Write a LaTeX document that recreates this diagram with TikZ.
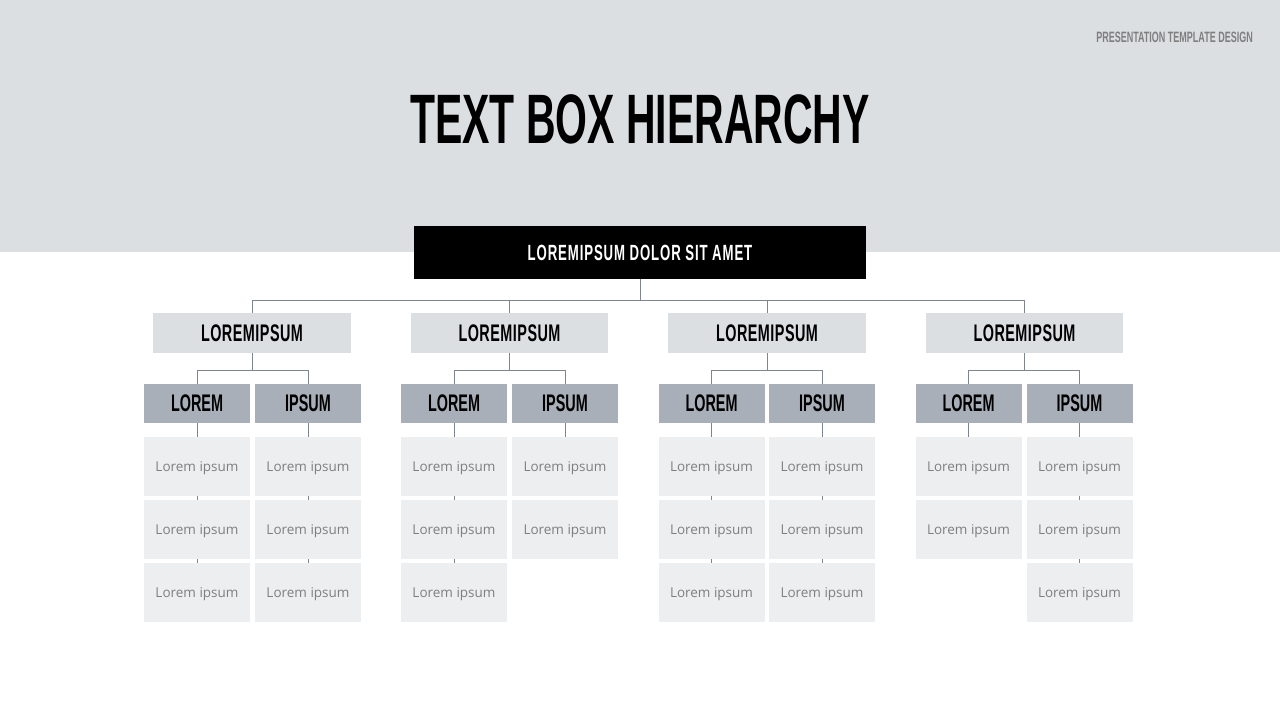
\documentclass[tikz,border=0pt]{standalone}
\usepackage{fontspec}
\setmainfont{Open Sans}
\newfontfamily\headfont[FakeStretch=0.6]{Liberation Sans}
\newfontfamily\titlefont[FakeStretch=0.585]{Liberation Sans}
\newfontfamily\rootfont[FakeStretch=0.6,LetterSpace=4]{Liberation Sans}
\newfontfamily\lvlfont[FakeStretch=0.6,LetterSpace=2]{Liberation Sans}
\usetikzlibrary{backgrounds}
\pgfdeclarelayer{bandlayer}
\pgfsetlayers{bandlayer,background,main}
\definecolor{bandc}{HTML}{DCDFE2}
\definecolor{lvlonec}{HTML}{DCDFE2}
\definecolor{lvltwoc}{HTML}{A8AFB8}
\definecolor{leafc}{HTML}{EDEEF0}
\definecolor{leaftext}{HTML}{7F7F7F}
\definecolor{linec}{HTML}{7E858E}
\definecolor{brandc}{HTML}{7F7F7F}
\begin{document}
\begin{tikzpicture}[x=1pt,y=-1pt,
  box/.style={inner sep=0pt, outer sep=0pt, text depth=0pt},
  rootbox/.style={box, fill=black, text=white, minimum width=452pt, minimum height=53pt,
    font=\rootfont\bfseries\fontsize{22}{22}\selectfont},
  lvlone/.style={box, fill=lvlonec, text=black, minimum width=197.5pt, minimum height=40pt,
    font=\lvlfont\bfseries\fontsize{24}{24}\selectfont},
  lvltwo/.style={box, fill=lvltwoc, text=black, minimum width=106pt, minimum height=39pt,
    font=\headfont\bfseries\fontsize{24}{24}\selectfont},
  leaf/.style={box, fill=leafc, text=leaftext, minimum width=106pt, minimum height=59pt,
    font=\fontsize{13.5}{13.5}\selectfont},
  conn/.style={draw=linec, line width=1pt}]
\useasboundingbox (0,0) rectangle (1280,720);
\begin{pgfonlayer}{bandlayer}
  \fill[bandc] (0,0) rectangle (1280,252);
\end{pgfonlayer}
\node[anchor=base east, text=brandc, inner sep=0pt, font=\headfont\bfseries\fontsize{15}{15}\selectfont] (brand) at (1253,42) {PRESENTATION TEMPLATE DESIGN};
\node[anchor=base, inner sep=0pt, font=\titlefont\bfseries\fontsize{70}{70}\selectfont] (title) at (640,143) {TEXT BOX HIERARCHY};
\node[rootbox] (root) at (640,252.5) {LOREMIPSUM DOLOR SIT AMET};
\foreach \g/\cx/\lx/\rx in {a/252/197/308, b/509.5/454/565, c/767/711.5/822, d/1024.5/968.5/1079.5}{
  \node[lvlone] (\g) at (\cx,333) {LOREMIPSUM};
  \node[lvltwo] (\g-l) at (\lx,403.5) {LOREM};
  \node[lvltwo] (\g-r) at (\rx,403.5) {IPSUM};
  \draw[conn] (\g.south) -- ++(0,17);
  \draw[conn] (\g-l.north) -- ++(0,-14) -| (\g-r.north);
}
% leaves
\foreach \n/\x/\y in {a-l1/197/466.5, a-l2/197/529.5, a-l3/197/592.5,
  a-r1/308/466.5, a-r2/308/529.5, a-r3/308/592.5,
  b-l1/454/466.5, b-l2/454/529.5, b-l3/454/592.5,
  b-r1/565/466.5, b-r2/565/529.5,
  c-l1/711.5/466.5, c-l2/711.5/529.5, c-l3/711.5/592.5,
  c-r1/822/466.5, c-r2/822/529.5, c-r3/822/592.5,
  d-l1/968.5/466.5, d-l2/968.5/529.5,
  d-r1/1079.5/466.5, d-r2/1079.5/529.5, d-r3/1079.5/592.5}{
  \node[leaf] (\n) at (\x,\y) {Lorem ipsum};
}
\draw[conn] (root.south) -- ++(0,21);
\draw[conn] (a.north) -- ++(0,-13) -| (d.north);
\draw[conn] (b.north) -- ++(0,-13);
\draw[conn] (c.north) -- ++(0,-13);
\begin{pgfonlayer}{background}
  \draw[conn] (a-l.south) -- (a-l3.center);
  \draw[conn] (a-r.south) -- (a-r3.center);
  \draw[conn] (b-l.south) -- (b-l3.center);
  \draw[conn] (b-r.south) -- (b-r1.north);
  \draw[conn] (c-l.south) -- (c-l3.center);
  \draw[conn] (c-r.south) -- (c-r3.center);
  \draw[conn] (d-l.south) -- (d-l1.north);
  \draw[conn] (d-r.south) -- (d-r3.center);
\end{pgfonlayer}
\end{tikzpicture}
\end{document}
